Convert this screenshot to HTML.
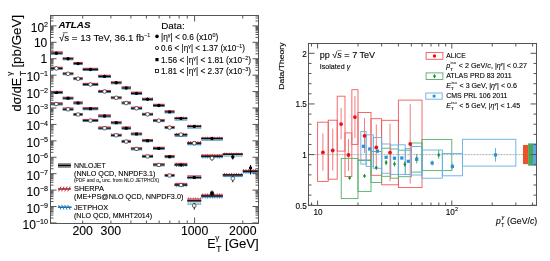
<!DOCTYPE html>
<html><head><meta charset="utf-8"><style>html,body{margin:0;padding:0;background:#fff}svg{display:block}text{stroke:#000;stroke-opacity:0.45;stroke-width:0.22px}</style></head><body>
<svg width="550" height="261" viewBox="0 0 550 261" font-family="Liberation Sans, Arial, Helvetica, sans-serif">
<rect width="550" height="261" fill="#fff"/>
<defs><pattern id="hr" width="2.4" height="4" patternUnits="userSpaceOnUse"><path d="M0 4L1.2 0L2.4 4z" fill="#c8283a"/></pattern><pattern id="hb" width="2.4" height="4" patternUnits="userSpaceOnUse"><path d="M0 0L1.2 4L2.4 0z" fill="#2b86c0"/></pattern></defs>
<g id="bands">
<rect x="50.02" y="51.45" width="12.68" height="0.6" fill="url(#hr)"/>
<rect x="50.02" y="51.75" width="12.68" height="0.85" fill="#b82a36"/>
<rect x="50.02" y="53.80" width="12.68" height="0.85" fill="#2f83bb"/>
<rect x="50.02" y="52.55" width="12.68" height="1.3" fill="#111"/>
<rect x="62.69" y="57.05" width="10.72" height="0.6" fill="url(#hr)"/>
<rect x="62.69" y="57.35" width="10.72" height="0.85" fill="#b82a36"/>
<rect x="62.69" y="59.40" width="10.72" height="0.85" fill="#2f83bb"/>
<rect x="62.69" y="58.15" width="10.72" height="1.3" fill="#111"/>
<rect x="73.41" y="61.85" width="9.28" height="0.6" fill="url(#hr)"/>
<rect x="73.41" y="62.15" width="9.28" height="0.85" fill="#b82a36"/>
<rect x="73.41" y="64.20" width="9.28" height="0.85" fill="#2f83bb"/>
<rect x="73.41" y="62.95" width="9.28" height="1.3" fill="#111"/>
<rect x="82.69" y="67.75" width="15.52" height="0.6" fill="url(#hr)"/>
<rect x="82.69" y="68.05" width="15.52" height="0.85" fill="#b82a36"/>
<rect x="82.69" y="70.10" width="15.52" height="0.85" fill="#2f83bb"/>
<rect x="82.69" y="68.85" width="15.52" height="1.3" fill="#111"/>
<rect x="98.21" y="74.65" width="12.68" height="0.6" fill="url(#hr)"/>
<rect x="98.21" y="74.95" width="12.68" height="0.85" fill="#b82a36"/>
<rect x="98.21" y="77.00" width="12.68" height="0.85" fill="#2f83bb"/>
<rect x="98.21" y="75.75" width="12.68" height="1.3" fill="#111"/>
<rect x="110.89" y="81.05" width="10.72" height="0.6" fill="url(#hr)"/>
<rect x="110.89" y="81.35" width="10.72" height="0.85" fill="#b82a36"/>
<rect x="110.89" y="83.40" width="10.72" height="0.85" fill="#2f83bb"/>
<rect x="110.89" y="82.15" width="10.72" height="1.3" fill="#111"/>
<rect x="121.61" y="86.25" width="9.28" height="0.6" fill="url(#hr)"/>
<rect x="121.61" y="86.55" width="9.28" height="0.85" fill="#b82a36"/>
<rect x="121.61" y="88.60" width="9.28" height="0.85" fill="#2f83bb"/>
<rect x="121.61" y="87.35" width="9.28" height="1.3" fill="#111"/>
<rect x="130.89" y="91.65" width="11.21" height="0.6" fill="url(#hr)"/>
<rect x="130.89" y="91.95" width="11.21" height="0.85" fill="#b82a36"/>
<rect x="130.89" y="94.00" width="11.21" height="0.85" fill="#2f83bb"/>
<rect x="130.89" y="92.75" width="11.21" height="1.3" fill="#111"/>
<rect x="142.10" y="97.55" width="10.93" height="0.6" fill="url(#hr)"/>
<rect x="142.10" y="97.85" width="10.93" height="0.85" fill="#b82a36"/>
<rect x="142.10" y="99.90" width="10.93" height="0.85" fill="#2f83bb"/>
<rect x="142.10" y="98.65" width="10.93" height="1.3" fill="#111"/>
<rect x="153.03" y="103.75" width="11.62" height="0.6" fill="url(#hr)"/>
<rect x="153.03" y="104.05" width="11.62" height="0.85" fill="#b82a36"/>
<rect x="153.03" y="106.10" width="11.62" height="0.85" fill="#2f83bb"/>
<rect x="153.03" y="104.85" width="11.62" height="1.3" fill="#111"/>
<rect x="164.65" y="110.15" width="9.95" height="0.6" fill="url(#hr)"/>
<rect x="164.65" y="110.45" width="9.95" height="0.85" fill="#b82a36"/>
<rect x="164.65" y="112.50" width="9.95" height="0.85" fill="#2f83bb"/>
<rect x="164.65" y="111.25" width="9.95" height="1.3" fill="#111"/>
<rect x="174.60" y="117.50" width="12.68" height="1.8" fill="#777"/>
<rect x="174.60" y="116.20" width="12.68" height="1.80" fill="url(#hr)"/>
<rect x="174.60" y="117.50" width="12.68" height="0.6" fill="#b82a36"/>
<rect x="174.60" y="118.80" width="12.68" height="1.80" fill="url(#hb)"/>
<rect x="174.60" y="118.70" width="12.68" height="0.6" fill="#2f83bb"/>
<rect x="174.60" y="117.75" width="12.68" height="1.3" fill="#111"/>
<rect x="187.27" y="125.50" width="13.95" height="1.8" fill="#777"/>
<rect x="187.27" y="124.20" width="13.95" height="1.80" fill="url(#hr)"/>
<rect x="187.27" y="125.50" width="13.95" height="0.6" fill="#b82a36"/>
<rect x="187.27" y="126.80" width="13.95" height="1.80" fill="url(#hb)"/>
<rect x="187.27" y="126.70" width="13.95" height="0.6" fill="#2f83bb"/>
<rect x="187.27" y="125.75" width="13.95" height="1.3" fill="#111"/>
<rect x="201.23" y="137.60" width="21.57" height="1.8" fill="#777"/>
<rect x="201.23" y="136.30" width="21.57" height="1.80" fill="url(#hr)"/>
<rect x="201.23" y="137.60" width="21.57" height="0.6" fill="#b82a36"/>
<rect x="201.23" y="138.90" width="21.57" height="1.80" fill="url(#hb)"/>
<rect x="201.23" y="138.80" width="21.57" height="0.6" fill="#2f83bb"/>
<rect x="201.23" y="137.85" width="21.57" height="1.3" fill="#111"/>
<rect x="222.79" y="153.40" width="20.00" height="1.8" fill="#777"/>
<rect x="222.79" y="152.10" width="20.00" height="1.80" fill="url(#hr)"/>
<rect x="222.79" y="153.40" width="20.00" height="0.6" fill="#b82a36"/>
<rect x="222.79" y="154.70" width="20.00" height="1.80" fill="url(#hb)"/>
<rect x="222.79" y="154.60" width="20.00" height="0.6" fill="#2f83bb"/>
<rect x="222.79" y="153.65" width="20.00" height="1.3" fill="#111"/>
<rect x="242.79" y="170.40" width="15.52" height="1.8" fill="#777"/>
<rect x="242.79" y="169.10" width="15.52" height="1.80" fill="url(#hr)"/>
<rect x="242.79" y="170.40" width="15.52" height="0.6" fill="#b82a36"/>
<rect x="242.79" y="171.70" width="15.52" height="1.80" fill="url(#hb)"/>
<rect x="242.79" y="171.60" width="15.52" height="0.6" fill="#2f83bb"/>
<rect x="242.79" y="170.65" width="15.52" height="1.3" fill="#111"/>
<rect x="50.02" y="66.65" width="12.68" height="0.6" fill="url(#hr)"/>
<rect x="50.02" y="66.95" width="12.68" height="0.85" fill="#b82a36"/>
<rect x="50.02" y="69.00" width="12.68" height="0.85" fill="#2f83bb"/>
<rect x="50.02" y="67.75" width="12.68" height="1.3" fill="#111"/>
<rect x="62.69" y="72.05" width="10.72" height="0.6" fill="url(#hr)"/>
<rect x="62.69" y="72.35" width="10.72" height="0.85" fill="#b82a36"/>
<rect x="62.69" y="74.40" width="10.72" height="0.85" fill="#2f83bb"/>
<rect x="62.69" y="73.15" width="10.72" height="1.3" fill="#111"/>
<rect x="73.41" y="76.95" width="9.28" height="0.6" fill="url(#hr)"/>
<rect x="73.41" y="77.25" width="9.28" height="0.85" fill="#b82a36"/>
<rect x="73.41" y="79.30" width="9.28" height="0.85" fill="#2f83bb"/>
<rect x="73.41" y="78.05" width="9.28" height="1.3" fill="#111"/>
<rect x="82.69" y="82.75" width="15.52" height="0.6" fill="url(#hr)"/>
<rect x="82.69" y="83.05" width="15.52" height="0.85" fill="#b82a36"/>
<rect x="82.69" y="85.10" width="15.52" height="0.85" fill="#2f83bb"/>
<rect x="82.69" y="83.85" width="15.52" height="1.3" fill="#111"/>
<rect x="98.21" y="89.75" width="12.68" height="0.6" fill="url(#hr)"/>
<rect x="98.21" y="90.05" width="12.68" height="0.85" fill="#b82a36"/>
<rect x="98.21" y="92.10" width="12.68" height="0.85" fill="#2f83bb"/>
<rect x="98.21" y="90.85" width="12.68" height="1.3" fill="#111"/>
<rect x="110.89" y="96.05" width="10.72" height="0.6" fill="url(#hr)"/>
<rect x="110.89" y="96.35" width="10.72" height="0.85" fill="#b82a36"/>
<rect x="110.89" y="98.40" width="10.72" height="0.85" fill="#2f83bb"/>
<rect x="110.89" y="97.15" width="10.72" height="1.3" fill="#111"/>
<rect x="121.61" y="101.25" width="9.28" height="0.6" fill="url(#hr)"/>
<rect x="121.61" y="101.55" width="9.28" height="0.85" fill="#b82a36"/>
<rect x="121.61" y="103.60" width="9.28" height="0.85" fill="#2f83bb"/>
<rect x="121.61" y="102.35" width="9.28" height="1.3" fill="#111"/>
<rect x="130.89" y="106.55" width="11.21" height="0.6" fill="url(#hr)"/>
<rect x="130.89" y="106.85" width="11.21" height="0.85" fill="#b82a36"/>
<rect x="130.89" y="108.90" width="11.21" height="0.85" fill="#2f83bb"/>
<rect x="130.89" y="107.65" width="11.21" height="1.3" fill="#111"/>
<rect x="142.10" y="112.55" width="10.93" height="0.6" fill="url(#hr)"/>
<rect x="142.10" y="112.85" width="10.93" height="0.85" fill="#b82a36"/>
<rect x="142.10" y="114.90" width="10.93" height="0.85" fill="#2f83bb"/>
<rect x="142.10" y="113.65" width="10.93" height="1.3" fill="#111"/>
<rect x="153.03" y="118.95" width="11.62" height="0.6" fill="url(#hr)"/>
<rect x="153.03" y="119.25" width="11.62" height="0.85" fill="#b82a36"/>
<rect x="153.03" y="121.30" width="11.62" height="0.85" fill="#2f83bb"/>
<rect x="153.03" y="120.05" width="11.62" height="1.3" fill="#111"/>
<rect x="164.65" y="125.85" width="9.95" height="0.6" fill="url(#hr)"/>
<rect x="164.65" y="126.15" width="9.95" height="0.85" fill="#b82a36"/>
<rect x="164.65" y="128.20" width="9.95" height="0.85" fill="#2f83bb"/>
<rect x="164.65" y="126.95" width="9.95" height="1.3" fill="#111"/>
<rect x="174.60" y="133.80" width="12.68" height="1.8" fill="#777"/>
<rect x="174.60" y="132.50" width="12.68" height="1.80" fill="url(#hr)"/>
<rect x="174.60" y="133.80" width="12.68" height="0.6" fill="#b82a36"/>
<rect x="174.60" y="135.10" width="12.68" height="1.80" fill="url(#hb)"/>
<rect x="174.60" y="135.00" width="12.68" height="0.6" fill="#2f83bb"/>
<rect x="174.60" y="134.05" width="12.68" height="1.3" fill="#111"/>
<rect x="187.27" y="142.30" width="13.95" height="1.8" fill="#777"/>
<rect x="187.27" y="141.00" width="13.95" height="1.80" fill="url(#hr)"/>
<rect x="187.27" y="142.30" width="13.95" height="0.6" fill="#b82a36"/>
<rect x="187.27" y="143.60" width="13.95" height="1.80" fill="url(#hb)"/>
<rect x="187.27" y="143.50" width="13.95" height="0.6" fill="#2f83bb"/>
<rect x="187.27" y="142.55" width="13.95" height="1.3" fill="#111"/>
<rect x="201.23" y="155.40" width="21.57" height="1.8" fill="#777"/>
<rect x="201.23" y="154.10" width="21.57" height="1.80" fill="url(#hr)"/>
<rect x="201.23" y="155.40" width="21.57" height="0.6" fill="#b82a36"/>
<rect x="201.23" y="156.70" width="21.57" height="1.80" fill="url(#hb)"/>
<rect x="201.23" y="156.60" width="21.57" height="0.6" fill="#2f83bb"/>
<rect x="201.23" y="155.65" width="21.57" height="1.3" fill="#111"/>
<rect x="222.79" y="174.00" width="20.00" height="1.8" fill="#777"/>
<rect x="222.79" y="172.70" width="20.00" height="1.80" fill="url(#hr)"/>
<rect x="222.79" y="174.00" width="20.00" height="0.6" fill="#b82a36"/>
<rect x="222.79" y="175.30" width="20.00" height="1.80" fill="url(#hb)"/>
<rect x="222.79" y="175.20" width="20.00" height="0.6" fill="#2f83bb"/>
<rect x="222.79" y="174.25" width="20.00" height="1.3" fill="#111"/>
<rect x="50.02" y="90.75" width="12.68" height="0.6" fill="url(#hr)"/>
<rect x="50.02" y="91.05" width="12.68" height="0.85" fill="#b82a36"/>
<rect x="50.02" y="93.10" width="12.68" height="0.85" fill="#2f83bb"/>
<rect x="50.02" y="91.85" width="12.68" height="1.3" fill="#111"/>
<rect x="62.69" y="96.45" width="10.72" height="0.6" fill="url(#hr)"/>
<rect x="62.69" y="96.75" width="10.72" height="0.85" fill="#b82a36"/>
<rect x="62.69" y="98.80" width="10.72" height="0.85" fill="#2f83bb"/>
<rect x="62.69" y="97.55" width="10.72" height="1.3" fill="#111"/>
<rect x="73.41" y="101.25" width="9.28" height="0.6" fill="url(#hr)"/>
<rect x="73.41" y="101.55" width="9.28" height="0.85" fill="#b82a36"/>
<rect x="73.41" y="103.60" width="9.28" height="0.85" fill="#2f83bb"/>
<rect x="73.41" y="102.35" width="9.28" height="1.3" fill="#111"/>
<rect x="82.69" y="107.05" width="15.52" height="0.6" fill="url(#hr)"/>
<rect x="82.69" y="107.35" width="15.52" height="0.85" fill="#b82a36"/>
<rect x="82.69" y="109.40" width="15.52" height="0.85" fill="#2f83bb"/>
<rect x="82.69" y="108.15" width="15.52" height="1.3" fill="#111"/>
<rect x="98.21" y="114.30" width="12.68" height="0.6" fill="url(#hr)"/>
<rect x="98.21" y="114.60" width="12.68" height="0.85" fill="#b82a36"/>
<rect x="98.21" y="116.65" width="12.68" height="0.85" fill="#2f83bb"/>
<rect x="98.21" y="115.40" width="12.68" height="1.3" fill="#111"/>
<rect x="110.89" y="121.05" width="10.72" height="0.6" fill="url(#hr)"/>
<rect x="110.89" y="121.35" width="10.72" height="0.85" fill="#b82a36"/>
<rect x="110.89" y="123.40" width="10.72" height="0.85" fill="#2f83bb"/>
<rect x="110.89" y="122.15" width="10.72" height="1.3" fill="#111"/>
<rect x="121.61" y="126.45" width="9.28" height="0.6" fill="url(#hr)"/>
<rect x="121.61" y="126.75" width="9.28" height="0.85" fill="#b82a36"/>
<rect x="121.61" y="128.80" width="9.28" height="0.85" fill="#2f83bb"/>
<rect x="121.61" y="127.55" width="9.28" height="1.3" fill="#111"/>
<rect x="130.89" y="132.25" width="11.21" height="0.6" fill="url(#hr)"/>
<rect x="130.89" y="132.55" width="11.21" height="0.85" fill="#b82a36"/>
<rect x="130.89" y="134.60" width="11.21" height="0.85" fill="#2f83bb"/>
<rect x="130.89" y="133.35" width="11.21" height="1.3" fill="#111"/>
<rect x="142.10" y="138.95" width="10.93" height="0.6" fill="url(#hr)"/>
<rect x="142.10" y="139.25" width="10.93" height="0.85" fill="#b82a36"/>
<rect x="142.10" y="141.30" width="10.93" height="0.85" fill="#2f83bb"/>
<rect x="142.10" y="140.05" width="10.93" height="1.3" fill="#111"/>
<rect x="153.03" y="146.65" width="11.62" height="0.6" fill="url(#hr)"/>
<rect x="153.03" y="146.95" width="11.62" height="0.85" fill="#b82a36"/>
<rect x="153.03" y="149.00" width="11.62" height="0.85" fill="#2f83bb"/>
<rect x="153.03" y="147.75" width="11.62" height="1.3" fill="#111"/>
<rect x="164.65" y="154.95" width="9.95" height="0.6" fill="url(#hr)"/>
<rect x="164.65" y="155.25" width="9.95" height="0.85" fill="#b82a36"/>
<rect x="164.65" y="157.30" width="9.95" height="0.85" fill="#2f83bb"/>
<rect x="164.65" y="156.05" width="9.95" height="1.3" fill="#111"/>
<rect x="174.60" y="164.00" width="12.68" height="1.8" fill="#777"/>
<rect x="174.60" y="162.70" width="12.68" height="1.80" fill="url(#hr)"/>
<rect x="174.60" y="164.00" width="12.68" height="0.6" fill="#b82a36"/>
<rect x="174.60" y="165.30" width="12.68" height="1.80" fill="url(#hb)"/>
<rect x="174.60" y="165.20" width="12.68" height="0.6" fill="#2f83bb"/>
<rect x="174.60" y="164.25" width="12.68" height="1.3" fill="#111"/>
<rect x="187.27" y="176.60" width="13.95" height="1.8" fill="#777"/>
<rect x="187.27" y="175.30" width="13.95" height="1.80" fill="url(#hr)"/>
<rect x="187.27" y="176.60" width="13.95" height="0.6" fill="#b82a36"/>
<rect x="187.27" y="177.90" width="13.95" height="1.80" fill="url(#hb)"/>
<rect x="187.27" y="177.80" width="13.95" height="0.6" fill="#2f83bb"/>
<rect x="187.27" y="176.85" width="13.95" height="1.3" fill="#111"/>
<rect x="201.23" y="195.10" width="21.57" height="1.8" fill="#777"/>
<rect x="201.23" y="193.50" width="21.57" height="1.80" fill="url(#hr)"/>
<rect x="201.23" y="194.80" width="21.57" height="0.6" fill="#b82a36"/>
<rect x="201.23" y="196.70" width="21.57" height="1.80" fill="url(#hb)"/>
<rect x="201.23" y="196.60" width="21.57" height="0.6" fill="#2f83bb"/>
<rect x="201.23" y="195.35" width="21.57" height="1.3" fill="#111"/>
<rect x="50.02" y="102.25" width="12.68" height="0.6" fill="url(#hr)"/>
<rect x="50.02" y="102.55" width="12.68" height="0.85" fill="#b82a36"/>
<rect x="50.02" y="104.60" width="12.68" height="0.85" fill="#2f83bb"/>
<rect x="50.02" y="103.35" width="12.68" height="1.3" fill="#111"/>
<rect x="62.69" y="107.55" width="10.72" height="0.6" fill="url(#hr)"/>
<rect x="62.69" y="107.85" width="10.72" height="0.85" fill="#b82a36"/>
<rect x="62.69" y="109.90" width="10.72" height="0.85" fill="#2f83bb"/>
<rect x="62.69" y="108.65" width="10.72" height="1.3" fill="#111"/>
<rect x="73.41" y="112.75" width="9.28" height="0.6" fill="url(#hr)"/>
<rect x="73.41" y="113.05" width="9.28" height="0.85" fill="#b82a36"/>
<rect x="73.41" y="115.10" width="9.28" height="0.85" fill="#2f83bb"/>
<rect x="73.41" y="113.85" width="9.28" height="1.3" fill="#111"/>
<rect x="82.69" y="118.85" width="15.52" height="0.6" fill="url(#hr)"/>
<rect x="82.69" y="119.15" width="15.52" height="0.85" fill="#b82a36"/>
<rect x="82.69" y="121.20" width="15.52" height="0.85" fill="#2f83bb"/>
<rect x="82.69" y="119.95" width="15.52" height="1.3" fill="#111"/>
<rect x="98.21" y="126.45" width="12.68" height="0.6" fill="url(#hr)"/>
<rect x="98.21" y="126.75" width="12.68" height="0.85" fill="#b82a36"/>
<rect x="98.21" y="128.80" width="12.68" height="0.85" fill="#2f83bb"/>
<rect x="98.21" y="127.55" width="12.68" height="1.3" fill="#111"/>
<rect x="110.89" y="133.55" width="10.72" height="0.6" fill="url(#hr)"/>
<rect x="110.89" y="133.85" width="10.72" height="0.85" fill="#b82a36"/>
<rect x="110.89" y="135.90" width="10.72" height="0.85" fill="#2f83bb"/>
<rect x="110.89" y="134.65" width="10.72" height="1.3" fill="#111"/>
<rect x="121.61" y="139.85" width="9.28" height="0.6" fill="url(#hr)"/>
<rect x="121.61" y="140.15" width="9.28" height="0.85" fill="#b82a36"/>
<rect x="121.61" y="142.20" width="9.28" height="0.85" fill="#2f83bb"/>
<rect x="121.61" y="140.95" width="9.28" height="1.3" fill="#111"/>
<rect x="130.89" y="147.15" width="11.21" height="0.6" fill="url(#hr)"/>
<rect x="130.89" y="147.45" width="11.21" height="0.85" fill="#b82a36"/>
<rect x="130.89" y="149.50" width="11.21" height="0.85" fill="#2f83bb"/>
<rect x="130.89" y="148.25" width="11.21" height="1.3" fill="#111"/>
<rect x="142.10" y="154.65" width="10.93" height="0.6" fill="url(#hr)"/>
<rect x="142.10" y="154.95" width="10.93" height="0.85" fill="#b82a36"/>
<rect x="142.10" y="157.00" width="10.93" height="0.85" fill="#2f83bb"/>
<rect x="142.10" y="155.75" width="10.93" height="1.3" fill="#111"/>
<rect x="153.03" y="163.15" width="11.62" height="0.6" fill="url(#hr)"/>
<rect x="153.03" y="163.45" width="11.62" height="0.85" fill="#b82a36"/>
<rect x="153.03" y="165.50" width="11.62" height="0.85" fill="#2f83bb"/>
<rect x="153.03" y="164.25" width="11.62" height="1.3" fill="#111"/>
<rect x="164.65" y="173.75" width="9.95" height="0.6" fill="url(#hr)"/>
<rect x="164.65" y="174.05" width="9.95" height="0.85" fill="#b82a36"/>
<rect x="164.65" y="176.10" width="9.95" height="0.85" fill="#2f83bb"/>
<rect x="164.65" y="174.85" width="9.95" height="1.3" fill="#111"/>
<rect x="174.60" y="184.10" width="12.68" height="1.8" fill="#777"/>
<rect x="174.60" y="182.80" width="12.68" height="1.80" fill="url(#hr)"/>
<rect x="174.60" y="184.10" width="12.68" height="0.6" fill="#b82a36"/>
<rect x="174.60" y="185.40" width="12.68" height="1.80" fill="url(#hb)"/>
<rect x="174.60" y="185.30" width="12.68" height="0.6" fill="#2f83bb"/>
<rect x="174.60" y="184.35" width="12.68" height="1.3" fill="#111"/>
<rect x="187.27" y="199.90" width="13.95" height="1.8" fill="#777"/>
<rect x="187.27" y="197.60" width="13.95" height="1.80" fill="url(#hr)"/>
<rect x="187.27" y="198.90" width="13.95" height="0.6" fill="#b82a36"/>
<rect x="187.27" y="202.80" width="13.95" height="1.80" fill="url(#hb)"/>
<rect x="187.27" y="202.70" width="13.95" height="0.6" fill="#2f83bb"/>
<rect x="187.27" y="200.15" width="13.95" height="1.3" fill="#111"/>
</g>
<g id="markers">
<circle cx="56.35" cy="53.20" r="1.7" fill="#000"/>
<circle cx="68.05" cy="58.80" r="1.7" fill="#000"/>
<circle cx="78.05" cy="63.60" r="1.7" fill="#000"/>
<circle cx="90.45" cy="69.50" r="1.7" fill="#000"/>
<circle cx="104.55" cy="76.40" r="1.7" fill="#000"/>
<circle cx="116.25" cy="82.80" r="1.7" fill="#000"/>
<circle cx="126.25" cy="88.00" r="1.7" fill="#000"/>
<circle cx="136.50" cy="93.40" r="1.7" fill="#000"/>
<circle cx="147.57" cy="99.30" r="1.7" fill="#000"/>
<circle cx="158.84" cy="105.50" r="1.7" fill="#000"/>
<circle cx="169.62" cy="111.90" r="1.7" fill="#000"/>
<circle cx="180.94" cy="118.40" r="1.7" fill="#000"/>
<circle cx="194.25" cy="126.40" r="1.7" fill="#000"/>
<circle cx="212.01" cy="138.50" r="1.7" fill="#000"/>
<line x1="232.79" y1="154.5" x2="232.79" y2="159.5" stroke="#000" stroke-width="1"/>
<circle cx="232.79" cy="157.00" r="1.7" fill="#000"/>
<line x1="250.55" y1="165.0" x2="250.55" y2="174.5" stroke="#000" stroke-width="1"/>
<circle cx="250.55" cy="168.00" r="1.7" fill="#000"/>
<circle cx="56.35" cy="68.40" r="1.85" fill="#fff" stroke="#333" stroke-width="0.75"/>
<circle cx="68.05" cy="73.80" r="1.85" fill="#fff" stroke="#333" stroke-width="0.75"/>
<circle cx="78.05" cy="78.70" r="1.85" fill="#fff" stroke="#333" stroke-width="0.75"/>
<circle cx="90.45" cy="84.50" r="1.85" fill="#fff" stroke="#333" stroke-width="0.75"/>
<circle cx="104.55" cy="91.50" r="1.85" fill="#fff" stroke="#333" stroke-width="0.75"/>
<circle cx="116.25" cy="97.80" r="1.85" fill="#fff" stroke="#333" stroke-width="0.75"/>
<circle cx="126.25" cy="103.00" r="1.85" fill="#fff" stroke="#333" stroke-width="0.75"/>
<circle cx="136.50" cy="108.30" r="1.85" fill="#fff" stroke="#333" stroke-width="0.75"/>
<circle cx="147.57" cy="114.30" r="1.85" fill="#fff" stroke="#333" stroke-width="0.75"/>
<circle cx="158.84" cy="120.70" r="1.85" fill="#fff" stroke="#333" stroke-width="0.75"/>
<circle cx="169.62" cy="127.60" r="1.85" fill="#fff" stroke="#333" stroke-width="0.75"/>
<circle cx="180.94" cy="134.70" r="1.85" fill="#fff" stroke="#333" stroke-width="0.75"/>
<circle cx="194.25" cy="143.20" r="1.85" fill="#fff" stroke="#333" stroke-width="0.75"/>
<line x1="212.01" y1="156" x2="212.01" y2="160.5" stroke="#000" stroke-width="1"/>
<circle cx="212.01" cy="158.20" r="1.85" fill="#fff" stroke="#333" stroke-width="0.75"/>
<line x1="232.79" y1="176" x2="232.79" y2="182.2" stroke="#000" stroke-width="1"/>
<circle cx="232.79" cy="178.50" r="1.85" fill="#fff" stroke="#333" stroke-width="0.75"/>
<rect x="54.85" y="91.00" width="3.0" height="3.0" rx="0.5" fill="#000"/>
<rect x="66.55" y="96.70" width="3.0" height="3.0" rx="0.5" fill="#000"/>
<rect x="76.55" y="101.50" width="3.0" height="3.0" rx="0.5" fill="#000"/>
<rect x="88.95" y="107.30" width="3.0" height="3.0" rx="0.5" fill="#000"/>
<rect x="103.05" y="114.55" width="3.0" height="3.0" rx="0.5" fill="#000"/>
<rect x="114.75" y="121.30" width="3.0" height="3.0" rx="0.5" fill="#000"/>
<rect x="124.75" y="126.70" width="3.0" height="3.0" rx="0.5" fill="#000"/>
<rect x="135.00" y="132.50" width="3.0" height="3.0" rx="0.5" fill="#000"/>
<rect x="146.07" y="139.20" width="3.0" height="3.0" rx="0.5" fill="#000"/>
<rect x="157.34" y="146.90" width="3.0" height="3.0" rx="0.5" fill="#000"/>
<rect x="168.12" y="155.20" width="3.0" height="3.0" rx="0.5" fill="#000"/>
<rect x="179.44" y="163.40" width="3.0" height="3.0" rx="0.5" fill="#000"/>
<rect x="192.75" y="176.00" width="3.0" height="3.0" rx="0.5" fill="#000"/>
<line x1="212.01" y1="190.5" x2="212.01" y2="196" stroke="#000" stroke-width="1"/>
<rect x="210.21" y="191.40" width="3.6" height="3.6" rx="0.5" fill="#000"/>
<rect x="54.65" y="102.40" width="3.4" height="3.2" rx="0.6" fill="#fff" stroke="#333" stroke-width="0.75"/>
<rect x="66.35" y="107.70" width="3.4" height="3.2" rx="0.6" fill="#fff" stroke="#333" stroke-width="0.75"/>
<rect x="76.35" y="112.90" width="3.4" height="3.2" rx="0.6" fill="#fff" stroke="#333" stroke-width="0.75"/>
<rect x="88.75" y="119.00" width="3.4" height="3.2" rx="0.6" fill="#fff" stroke="#333" stroke-width="0.75"/>
<rect x="102.85" y="126.60" width="3.4" height="3.2" rx="0.6" fill="#fff" stroke="#333" stroke-width="0.75"/>
<rect x="114.55" y="133.70" width="3.4" height="3.2" rx="0.6" fill="#fff" stroke="#333" stroke-width="0.75"/>
<rect x="124.55" y="140.00" width="3.4" height="3.2" rx="0.6" fill="#fff" stroke="#333" stroke-width="0.75"/>
<rect x="134.80" y="147.30" width="3.4" height="3.2" rx="0.6" fill="#fff" stroke="#333" stroke-width="0.75"/>
<rect x="145.87" y="154.80" width="3.4" height="3.2" rx="0.6" fill="#fff" stroke="#333" stroke-width="0.75"/>
<rect x="157.14" y="163.30" width="3.4" height="3.2" rx="0.6" fill="#fff" stroke="#333" stroke-width="0.75"/>
<rect x="167.92" y="173.90" width="3.4" height="3.2" rx="0.6" fill="#fff" stroke="#333" stroke-width="0.75"/>
<rect x="179.24" y="183.40" width="3.4" height="3.2" rx="0.6" fill="#fff" stroke="#333" stroke-width="0.75"/>
<line x1="194.25" y1="203" x2="194.25" y2="209.6" stroke="#000" stroke-width="1"/>
<rect x="192.55" y="204.00" width="3.4" height="3.2" rx="0.6" fill="#fff" stroke="#333" stroke-width="0.75"/>
</g>
<path d="M50.5 222.94h6M258.5 222.94h-6M50.5 218.00h3M258.5 218.00h-3M50.5 215.11h3M258.5 215.11h-3M50.5 213.05h3M258.5 213.05h-3M50.5 211.46h3M258.5 211.46h-3M50.5 210.16h3M258.5 210.16h-3M50.5 209.06h3M258.5 209.06h-3M50.5 208.11h3M258.5 208.11h-3M50.5 207.27h3M258.5 207.27h-3M50.5 206.52h6M258.5 206.52h-6M50.5 201.58h3M258.5 201.58h-3M50.5 198.69h3M258.5 198.69h-3M50.5 196.63h3M258.5 196.63h-3M50.5 195.04h3M258.5 195.04h-3M50.5 193.74h3M258.5 193.74h-3M50.5 192.64h3M258.5 192.64h-3M50.5 191.69h3M258.5 191.69h-3M50.5 190.85h3M258.5 190.85h-3M50.5 190.10h6M258.5 190.10h-6M50.5 185.16h3M258.5 185.16h-3M50.5 182.27h3M258.5 182.27h-3M50.5 180.21h3M258.5 180.21h-3M50.5 178.62h3M258.5 178.62h-3M50.5 177.32h3M258.5 177.32h-3M50.5 176.22h3M258.5 176.22h-3M50.5 175.27h3M258.5 175.27h-3M50.5 174.43h3M258.5 174.43h-3M50.5 173.68h6M258.5 173.68h-6M50.5 168.74h3M258.5 168.74h-3M50.5 165.85h3M258.5 165.85h-3M50.5 163.79h3M258.5 163.79h-3M50.5 162.20h3M258.5 162.20h-3M50.5 160.90h3M258.5 160.90h-3M50.5 159.80h3M258.5 159.80h-3M50.5 158.85h3M258.5 158.85h-3M50.5 158.01h3M258.5 158.01h-3M50.5 157.26h6M258.5 157.26h-6M50.5 152.32h3M258.5 152.32h-3M50.5 149.43h3M258.5 149.43h-3M50.5 147.37h3M258.5 147.37h-3M50.5 145.78h3M258.5 145.78h-3M50.5 144.48h3M258.5 144.48h-3M50.5 143.38h3M258.5 143.38h-3M50.5 142.43h3M258.5 142.43h-3M50.5 141.59h3M258.5 141.59h-3M50.5 140.84h6M258.5 140.84h-6M50.5 135.90h3M258.5 135.90h-3M50.5 133.01h3M258.5 133.01h-3M50.5 130.95h3M258.5 130.95h-3M50.5 129.36h3M258.5 129.36h-3M50.5 128.06h3M258.5 128.06h-3M50.5 126.96h3M258.5 126.96h-3M50.5 126.01h3M258.5 126.01h-3M50.5 125.17h3M258.5 125.17h-3M50.5 124.42h6M258.5 124.42h-6M50.5 119.48h3M258.5 119.48h-3M50.5 116.59h3M258.5 116.59h-3M50.5 114.53h3M258.5 114.53h-3M50.5 112.94h3M258.5 112.94h-3M50.5 111.64h3M258.5 111.64h-3M50.5 110.54h3M258.5 110.54h-3M50.5 109.59h3M258.5 109.59h-3M50.5 108.75h3M258.5 108.75h-3M50.5 108.00h6M258.5 108.00h-6M50.5 103.06h3M258.5 103.06h-3M50.5 100.17h3M258.5 100.17h-3M50.5 98.11h3M258.5 98.11h-3M50.5 96.52h3M258.5 96.52h-3M50.5 95.22h3M258.5 95.22h-3M50.5 94.12h3M258.5 94.12h-3M50.5 93.17h3M258.5 93.17h-3M50.5 92.33h3M258.5 92.33h-3M50.5 91.58h6M258.5 91.58h-6M50.5 86.64h3M258.5 86.64h-3M50.5 83.75h3M258.5 83.75h-3M50.5 81.69h3M258.5 81.69h-3M50.5 80.10h3M258.5 80.10h-3M50.5 78.80h3M258.5 78.80h-3M50.5 77.70h3M258.5 77.70h-3M50.5 76.75h3M258.5 76.75h-3M50.5 75.91h3M258.5 75.91h-3M50.5 75.16h6M258.5 75.16h-6M50.5 70.22h3M258.5 70.22h-3M50.5 67.33h3M258.5 67.33h-3M50.5 65.27h3M258.5 65.27h-3M50.5 63.68h3M258.5 63.68h-3M50.5 62.38h3M258.5 62.38h-3M50.5 61.28h3M258.5 61.28h-3M50.5 60.33h3M258.5 60.33h-3M50.5 59.49h3M258.5 59.49h-3M50.5 58.74h6M258.5 58.74h-6M50.5 53.80h3M258.5 53.80h-3M50.5 50.91h3M258.5 50.91h-3M50.5 48.85h3M258.5 48.85h-3M50.5 47.26h3M258.5 47.26h-3M50.5 45.96h3M258.5 45.96h-3M50.5 44.86h3M258.5 44.86h-3M50.5 43.91h3M258.5 43.91h-3M50.5 43.07h3M258.5 43.07h-3M50.5 42.32h6M258.5 42.32h-6M50.5 37.38h3M258.5 37.38h-3M50.5 34.49h3M258.5 34.49h-3M50.5 32.43h3M258.5 32.43h-3M50.5 30.84h3M258.5 30.84h-3M50.5 29.54h3M258.5 29.54h-3M50.5 28.44h3M258.5 28.44h-3M50.5 27.49h3M258.5 27.49h-3M50.5 26.65h3M258.5 26.65h-3M50.5 25.90h6M258.5 25.90h-6M50.5 20.96h3M258.5 20.96h-3M50.5 18.07h3M258.5 18.07h-3M50.5 16.01h3M258.5 16.01h-3M82.69 223.5v-3M82.69 15.5v3M110.89 223.5v-3M110.89 15.5v3M130.89 223.5v-3M130.89 15.5v3M146.41 223.5v-3M146.41 15.5v3M159.08 223.5v-3M159.08 15.5v3M169.80 223.5v-3M169.80 15.5v3M179.08 223.5v-3M179.08 15.5v3M187.27 223.5v-3M187.27 15.5v3M242.79 223.5v-3M242.79 15.5v3M194.60 223.5v-6M194.60 15.5v6" stroke="#555" stroke-width="1" fill="none"/>
<rect x="50.5" y="15.5" width="208.0" height="208.0" fill="none" stroke="#555" stroke-width="1"/>
<text x="48.1" y="228.94" font-size="12" text-anchor="end">10<tspan dy="-4.9" font-size="7.2">−10</tspan></text>
<text x="48.1" y="212.52" font-size="12" text-anchor="end">10<tspan dy="-4.9" font-size="7.2">−9</tspan></text>
<text x="48.1" y="196.10" font-size="12" text-anchor="end">10<tspan dy="-4.9" font-size="7.2">−8</tspan></text>
<text x="48.1" y="179.68" font-size="12" text-anchor="end">10<tspan dy="-4.9" font-size="7.2">−7</tspan></text>
<text x="48.1" y="163.26" font-size="12" text-anchor="end">10<tspan dy="-4.9" font-size="7.2">−6</tspan></text>
<text x="48.1" y="146.84" font-size="12" text-anchor="end">10<tspan dy="-4.9" font-size="7.2">−5</tspan></text>
<text x="48.1" y="130.42" font-size="12" text-anchor="end">10<tspan dy="-4.9" font-size="7.2">−4</tspan></text>
<text x="48.1" y="114.00" font-size="12" text-anchor="end">10<tspan dy="-4.9" font-size="7.2">−3</tspan></text>
<text x="48.1" y="97.58" font-size="12" text-anchor="end">10<tspan dy="-4.9" font-size="7.2">−2</tspan></text>
<text x="48.1" y="81.16" font-size="12" text-anchor="end">10<tspan dy="-4.9" font-size="7.2">−1</tspan></text>
<text x="47.3" y="62.94" font-size="12" text-anchor="end">1</text>
<text x="47.3" y="46.52" font-size="12" text-anchor="end">10</text>
<text x="48.1" y="31.90" font-size="12" text-anchor="end">10<tspan dy="-4.9" font-size="7.2">2</tspan></text>
<text x="82.69" y="235" font-size="12.3" text-anchor="middle">200</text>
<text x="110.89" y="235" font-size="12.3" text-anchor="middle">300</text>
<text x="194.60" y="235" font-size="12.3" text-anchor="middle">1000</text>
<text x="242.79" y="235" font-size="12.3" text-anchor="middle">2000</text>
<text x="207.3" y="248" font-size="12.5">E</text><text x="216.2" y="252.4" font-size="8.4">T</text><text x="215.3" y="239.6" font-size="8">γ</text><text x="225" y="248" font-size="12.5" textLength="33.8" lengthAdjust="spacingAndGlyphs">[GeV]</text>
<g transform="translate(21.4,111.6) rotate(-90)"><text x="0" y="0" font-size="12" textLength="33.8" lengthAdjust="spacingAndGlyphs">dσ/dE</text><text x="35.6" y="4.6" font-size="8.4">T</text><text x="35.8" y="-9.2" font-size="8">γ</text><text x="44" y="0" font-size="12.5" textLength="52.8" lengthAdjust="spacingAndGlyphs">[pb/GeV]</text></g>
<text x="58.5" y="28.4" font-size="9.1" font-weight="bold" font-style="italic" textLength="32" lengthAdjust="spacingAndGlyphs">ATLAS</text>
<text x="59" y="40.8" font-size="9.4" textLength="91.2" lengthAdjust="spacingAndGlyphs">√s = 13 TeV, 36.1 fb<tspan dy="-4.2" font-size="5.2" fill="#333">−1</tspan></text>
<path d="M62.8 32.7h4.9" stroke="#333" stroke-width="0.7"/>
<text x="161.2" y="28.5" font-size="9.9">Data:</text>
<circle cx="157" cy="36.4" r="1.8" fill="#000"/>
<text x="161" y="39.7" font-size="8.5" textLength="57.2" lengthAdjust="spacingAndGlyphs">|η<tspan dy="-3" font-size="5.5">γ</tspan><tspan dy="3">| &lt; 0.6 (x10</tspan><tspan dy="-3" font-size="5.5">0</tspan><tspan dy="3">)</tspan></text>
<circle cx="157" cy="48.0" r="1.6" fill="#fff" stroke="#000" stroke-width="0.8"/>
<text x="161" y="51.3" font-size="8.5" textLength="84.0" lengthAdjust="spacingAndGlyphs">0.6 &lt; |η<tspan dy="-3" font-size="5.5">γ</tspan><tspan dy="3">| &lt; 1.37 (x10</tspan><tspan dy="-3" font-size="5.5">−1</tspan><tspan dy="3">)</tspan></text>
<rect x="155.4" y="58.0" width="3.2" height="3.2" fill="#000"/>
<text x="161" y="62.9" font-size="8.5" textLength="90.0" lengthAdjust="spacingAndGlyphs">1.56 &lt; |η<tspan dy="-3" font-size="5.5">γ</tspan><tspan dy="3">| &lt; 1.81 (x10</tspan><tspan dy="-3" font-size="5.5">−2</tspan><tspan dy="3">)</tspan></text>
<rect x="155.5" y="69.5" width="3" height="3" fill="#fff" stroke="#000" stroke-width="0.8"/>
<text x="161" y="74.3" font-size="8.5" textLength="90.0" lengthAdjust="spacingAndGlyphs">1.81 &lt; |η<tspan dy="-3" font-size="5.5">γ</tspan><tspan dy="3">| &lt; 2.37 (x10</tspan><tspan dy="-3" font-size="5.5">−3</tspan><tspan dy="3">)</tspan></text>
<rect x="58" y="163.1" width="12.9" height="4.8" fill="#8a8a8a"/><rect x="58" y="164.8" width="12.9" height="1.3" fill="#000"/>
<text x="74" y="168" font-size="7.4" textLength="31.8" lengthAdjust="spacingAndGlyphs">NNLOJET</text>
<text x="74" y="175.8" font-size="7.4" textLength="81.3" lengthAdjust="spacingAndGlyphs">(NNLO QCD, NNPDF3.1)</text>
<text x="74" y="182.4" font-size="4.6" fill="#444" textLength="85.2" lengthAdjust="spacingAndGlyphs">(PDF and α<tspan font-size="3.5" dy="1">s</tspan><tspan dy="-1"> unc. from NLO JETPHOX)</tspan></text>
<path d="M58 189h12.9" stroke="#a52630" stroke-width="1.6"/>
<path d="M58.60 191.4l2.4 -4.8M61.65 191.4l2.4 -4.8M64.70 191.4l2.4 -4.8M67.75 191.4l2.4 -4.8" stroke="#b52e3a" stroke-width="1.0"/>
<text x="74" y="191.4" font-size="7.4">SHERPA</text>
<text x="74" y="199.1" font-size="7.4" textLength="109.4" lengthAdjust="spacingAndGlyphs">(ME+PS@NLO QCD, NNPDF3.0)</text>
<path d="M58 207.2h13.6" stroke="#1d6aa0" stroke-width="1.6"/>
<path d="M58.60 204.9l2.4 4.8M61.65 204.9l2.4 4.8M64.70 204.9l2.4 4.8M67.75 204.9l2.4 4.8" stroke="#2a80b8" stroke-width="1.0"/>
<text x="74" y="210.4" font-size="7.4">JETPHOX</text>
<text x="74" y="217.6" font-size="7.4" textLength="78.1" lengthAdjust="spacingAndGlyphs">(NLO QCD, MMHT2014)</text>
<line x1="308.5" y1="154.6" x2="536.5" y2="154.6" stroke="#999" stroke-width="0.8" stroke-dasharray="2,1"/>
<g fill="none" stroke="#f0595e" stroke-width="0.9"><rect x="317.60" y="122.20" width="10.63" height="59.20"/><rect x="328.23" y="120.20" width="8.98" height="59.00"/><rect x="337.21" y="96.20" width="7.78" height="54.90"/><rect x="344.99" y="132.90" width="6.86" height="43.70"/><rect x="351.86" y="89.70" width="6.14" height="54.70"/><rect x="358.00" y="112.50" width="13.01" height="47.50"/><rect x="371.00" y="118.70" width="10.63" height="56.60"/><rect x="381.63" y="120.30" width="16.77" height="64.50"/><rect x="398.40" y="100.10" width="23.63" height="87.50"/></g>
<g fill="none" stroke="#52ae68" stroke-width="0.9"><rect x="341.23" y="158.40" width="16.77" height="40.20"/><rect x="358.00" y="160.40" width="13.01" height="31.00"/><rect x="371.00" y="151.50" width="10.63" height="31.00"/><rect x="381.63" y="148.20" width="8.98" height="28.10"/><rect x="390.61" y="149.00" width="7.78" height="29.20"/><rect x="398.40" y="150.20" width="13.01" height="26.50"/><rect x="411.40" y="143.00" width="10.63" height="29.10"/><rect x="422.03" y="139.40" width="29.77" height="31.20"/></g>
<g fill="none" stroke="#64b0e2" stroke-width="0.9"><rect x="360.84" y="131.50" width="5.30" height="32.60"/><rect x="366.14" y="134.80" width="7.15" height="31.60"/><rect x="373.29" y="137.50" width="8.34" height="30.80"/><rect x="381.63" y="144.00" width="8.98" height="29.20"/><rect x="390.61" y="145.00" width="7.78" height="29.40"/><rect x="398.40" y="144.80" width="6.86" height="29.60"/><rect x="405.26" y="148.60" width="6.14" height="25.80"/><rect x="411.40" y="146.50" width="10.63" height="28.50"/><rect x="422.03" y="150.00" width="20.30" height="28.20"/><rect x="442.33" y="153.50" width="20.10" height="22.30"/><rect x="462.43" y="139.30" width="53.40" height="26.80"/></g>
<path d="M322.91 133.40V170.70M332.72 128.60V170.70M341.10 108.00V139.20M348.43 139.00V171.00M354.93 96.10V138.00M364.50 118.00V153.00M376.32 124.40V170.00M390.01 123.70V181.30M410.21 104.20V183.60" stroke="#f27c80" stroke-width="1.0" fill="none"/>
<path d="M349.61 176.40V179.40M364.50 174.40V177.40M376.32 166.10V169.10M386.12 160.00V165.20M394.51 161.50V166.50M404.90 161.50V167.00M416.71 154.00V163.50M438.70 150.10V158.70" stroke="#52ae68" stroke-width="1.0" fill="none"/>
<path d="M363.49 145.10V147.50M369.72 147.80V150.20M377.46 149.90V152.30M386.12 156.10V158.50M394.51 157.00V159.40M401.83 156.80V159.20M408.33 160.10V162.50M416.71 158.10V160.50M432.18 160.50V165.50M452.38 163.50V169.30M495.50 148.20V161.60" stroke="#64b0e2" stroke-width="1.0" fill="none"/>
<circle cx="322.91" cy="152.30" r="1.9" fill="#e8101a"/>
<circle cx="332.72" cy="150.50" r="1.9" fill="#e8101a"/>
<circle cx="341.10" cy="124.10" r="1.9" fill="#e8101a"/>
<circle cx="348.43" cy="155.00" r="1.9" fill="#e8101a"/>
<circle cx="354.93" cy="117.10" r="1.9" fill="#e8101a"/>
<circle cx="364.50" cy="135.80" r="1.9" fill="#e8101a"/>
<circle cx="376.32" cy="147.40" r="1.9" fill="#e8101a"/>
<circle cx="390.01" cy="152.60" r="1.9" fill="#e8101a"/>
<circle cx="410.21" cy="144.00" r="1.9" fill="#e8101a"/>
<path d="M349.61 175.70l1.5 2.2l-1.5 2.2l-1.5 -2.2z" fill="#14913a"/>
<path d="M364.50 173.70l1.5 2.2l-1.5 2.2l-1.5 -2.2z" fill="#14913a"/>
<path d="M376.32 165.40l1.5 2.2l-1.5 2.2l-1.5 -2.2z" fill="#14913a"/>
<path d="M386.12 160.40l1.5 2.2l-1.5 2.2l-1.5 -2.2z" fill="#14913a"/>
<path d="M394.51 161.80l1.5 2.2l-1.5 2.2l-1.5 -2.2z" fill="#14913a"/>
<path d="M404.90 162.00l1.5 2.2l-1.5 2.2l-1.5 -2.2z" fill="#14913a"/>
<path d="M416.71 156.60l1.5 2.2l-1.5 2.2l-1.5 -2.2z" fill="#14913a"/>
<path d="M438.70 152.70l1.5 2.2l-1.5 2.2l-1.5 -2.2z" fill="#14913a"/>
<rect x="361.89" y="144.70" width="3.2" height="3.2" fill="#2a8fd6"/>
<rect x="368.12" y="147.40" width="3.2" height="3.2" fill="#2a8fd6"/>
<rect x="375.86" y="149.50" width="3.2" height="3.2" fill="#2a8fd6"/>
<rect x="384.52" y="155.70" width="3.2" height="3.2" fill="#2a8fd6"/>
<rect x="392.91" y="156.60" width="3.2" height="3.2" fill="#2a8fd6"/>
<rect x="400.23" y="156.40" width="3.2" height="3.2" fill="#2a8fd6"/>
<rect x="406.73" y="159.70" width="3.2" height="3.2" fill="#2a8fd6"/>
<rect x="415.11" y="157.70" width="3.2" height="3.2" fill="#2a8fd6"/>
<rect x="430.58" y="161.40" width="3.2" height="3.2" fill="#2a8fd6"/>
<rect x="450.78" y="164.80" width="3.2" height="3.2" fill="#2a8fd6"/>
<rect x="493.90" y="153.30" width="3.2" height="3.2" fill="#2a8fd6"/>
<rect x="523" y="145" width="5.1" height="19.1" fill="#ee4f2c"/>
<rect x="528.1" y="143.4" width="4.9" height="22.3" fill="#4aa65c"/>
<rect x="533" y="143.4" width="3.5" height="22.3" fill="#5ba9e2"/>
<path d="M308.5 205.25h6M536.5 205.25h-6M308.5 195.12h3M536.5 195.12h-3M308.5 184.99h3M536.5 184.99h-3M308.5 174.86h3M536.5 174.86h-3M308.5 164.73h3M536.5 164.73h-3M308.5 154.60h6M536.5 154.60h-6M308.5 144.47h3M536.5 144.47h-3M308.5 134.34h3M536.5 134.34h-3M308.5 124.21h3M536.5 124.21h-3M308.5 114.08h3M536.5 114.08h-3M308.5 103.95h6M536.5 103.95h-6M308.5 93.82h3M536.5 93.82h-3M308.5 83.69h3M536.5 83.69h-3M308.5 73.56h3M536.5 73.56h-3M308.5 63.43h3M536.5 63.43h-3M308.5 53.30h6M536.5 53.30h-6M311.46 205.5v-3M311.46 43.5v3M358.00 205.5v-3M358.00 43.5v3M381.63 205.5v-3M381.63 43.5v3M398.40 205.5v-3M398.40 43.5v3M411.40 205.5v-3M411.40 43.5v3M422.03 205.5v-3M422.03 43.5v3M431.01 205.5v-3M431.01 43.5v3M438.79 205.5v-3M438.79 43.5v3M445.66 205.5v-3M445.66 43.5v3M492.20 205.5v-3M492.20 43.5v3M515.83 205.5v-3M515.83 43.5v3M532.60 205.5v-3M532.60 43.5v3M317.60 205.5v-5M317.60 43.5v5M451.80 205.5v-5M451.80 43.5v5" stroke="#555" stroke-width="1" fill="none"/>
<rect x="308.5" y="43.5" width="228.0" height="162.0" fill="none" stroke="#555" stroke-width="1"/>
<text x="306.8" y="56.599999999999994" font-size="8.2" text-anchor="end">2</text>
<text x="306.8" y="107.3" font-size="8.2" text-anchor="end">1.5</text>
<text x="306.8" y="157.8" font-size="8.2" text-anchor="end">1</text>
<text x="306.8" y="208.5" font-size="8.2" text-anchor="end">0.5</text>
<text x="318" y="214.8" font-size="8.2" text-anchor="middle">10</text>
<text x="451.9" y="214.6" font-size="8.2" text-anchor="middle">10<tspan font-size="5.5" dy="-3.5">2</tspan></text>
<text transform="translate(283.7,89.8) rotate(-90)" font-size="7.9" textLength="47.3" lengthAdjust="spacingAndGlyphs" stroke="#000" stroke-width="0.15">Data/Theory</text>
<text x="496" y="223.8" font-size="8.6" font-style="italic">p</text><text x="501.3" y="226.6" font-size="5">T</text><text x="501.5" y="219.3" font-size="5.5" font-style="italic">γ</text><text x="507" y="223.9" font-size="8.7" textLength="30.3" lengthAdjust="spacingAndGlyphs">(GeV/<tspan font-style="italic">c</tspan>)</text>
<text x="319.8" y="58.2" font-size="8.5" textLength="55.3" lengthAdjust="spacingAndGlyphs">pp  √<tspan font-style="italic">s</tspan> = 7 TeV</text>
<path d="M337.3 50.6h4.2" stroke="#444" stroke-width="0.6"/>
<text x="319.8" y="68.6" font-size="6.8" textLength="30.4" lengthAdjust="spacingAndGlyphs">Isolated <tspan font-style="italic">γ</tspan></text>
<rect x="426.1" y="52.4" width="16.8" height="6.9" fill="none" stroke="#f0595e" stroke-width="0.9"/><circle cx="434.5" cy="56" r="1.7" fill="#e8101a"/>
<rect x="426.1" y="72.9" width="16.8" height="6.6" fill="none" stroke="#52ae68" stroke-width="0.9"/><path d="M434.5 73.9l1.5 2.3l-1.5 2.3l-1.5 -2.3z" fill="#14913a"/>
<rect x="425.8" y="93" width="16.4" height="6.2" fill="none" stroke="#64b0e2" stroke-width="0.9"/><rect x="432.7" y="94.7" width="2.8" height="2.8" fill="#2a8fd6"/>
<text x="446.3" y="58.2" font-size="6.7">ALICE</text>
<text x="446.2" y="68.1" font-size="6.6" textLength="80.8" lengthAdjust="spacingAndGlyphs"><tspan font-style="italic">p</tspan><tspan font-size="4" dy="-3.8" dx="0.4" fill="#555">iso</tspan><tspan font-size="4.2" dx="-5.4" dy="6.6">T</tspan><tspan dy="-2.8" dx="3.4"> &lt; 2 GeV/<tspan font-style="italic">c</tspan>, |<tspan font-style="italic">η</tspan><tspan font-size="4" dy="-3" font-style="italic">γ</tspan><tspan dy="3">| &lt; 0.27</tspan></tspan></text>
<text x="446.2" y="77.6" font-size="6.8" textLength="65.4" lengthAdjust="spacingAndGlyphs">ATLAS PRD 83 2011</text>
<text x="446.2" y="87.5" font-size="6.6" textLength="70.8" lengthAdjust="spacingAndGlyphs"><tspan font-style="italic">E</tspan><tspan font-size="4" dy="-3.8" dx="0.4" fill="#555">iso</tspan><tspan font-size="4.2" dx="-5.4" dy="6.6">T</tspan><tspan dy="-2.8" dx="3.4"> &lt; 3 GeV, |<tspan font-style="italic">η</tspan><tspan font-size="4" dy="-3" font-style="italic">γ</tspan><tspan dy="3">| &lt; 0.6</tspan></tspan></text>
<text x="446.2" y="98" font-size="6.8" textLength="61.3" lengthAdjust="spacingAndGlyphs">CMS PRL 106 2011</text>
<text x="446.2" y="107.6" font-size="6.6" textLength="74" lengthAdjust="spacingAndGlyphs"><tspan font-style="italic">E</tspan><tspan font-size="4" dy="-3.8" dx="0.4" fill="#555">iso</tspan><tspan font-size="4.2" dx="-5.4" dy="6.6">T</tspan><tspan dy="-2.8" dx="3.4"> &lt; 5 GeV, |<tspan font-style="italic">η</tspan><tspan font-size="4" dy="-3" font-style="italic">γ</tspan><tspan dy="3">| &lt; 1.45</tspan></tspan></text>
</svg>
</body></html>
